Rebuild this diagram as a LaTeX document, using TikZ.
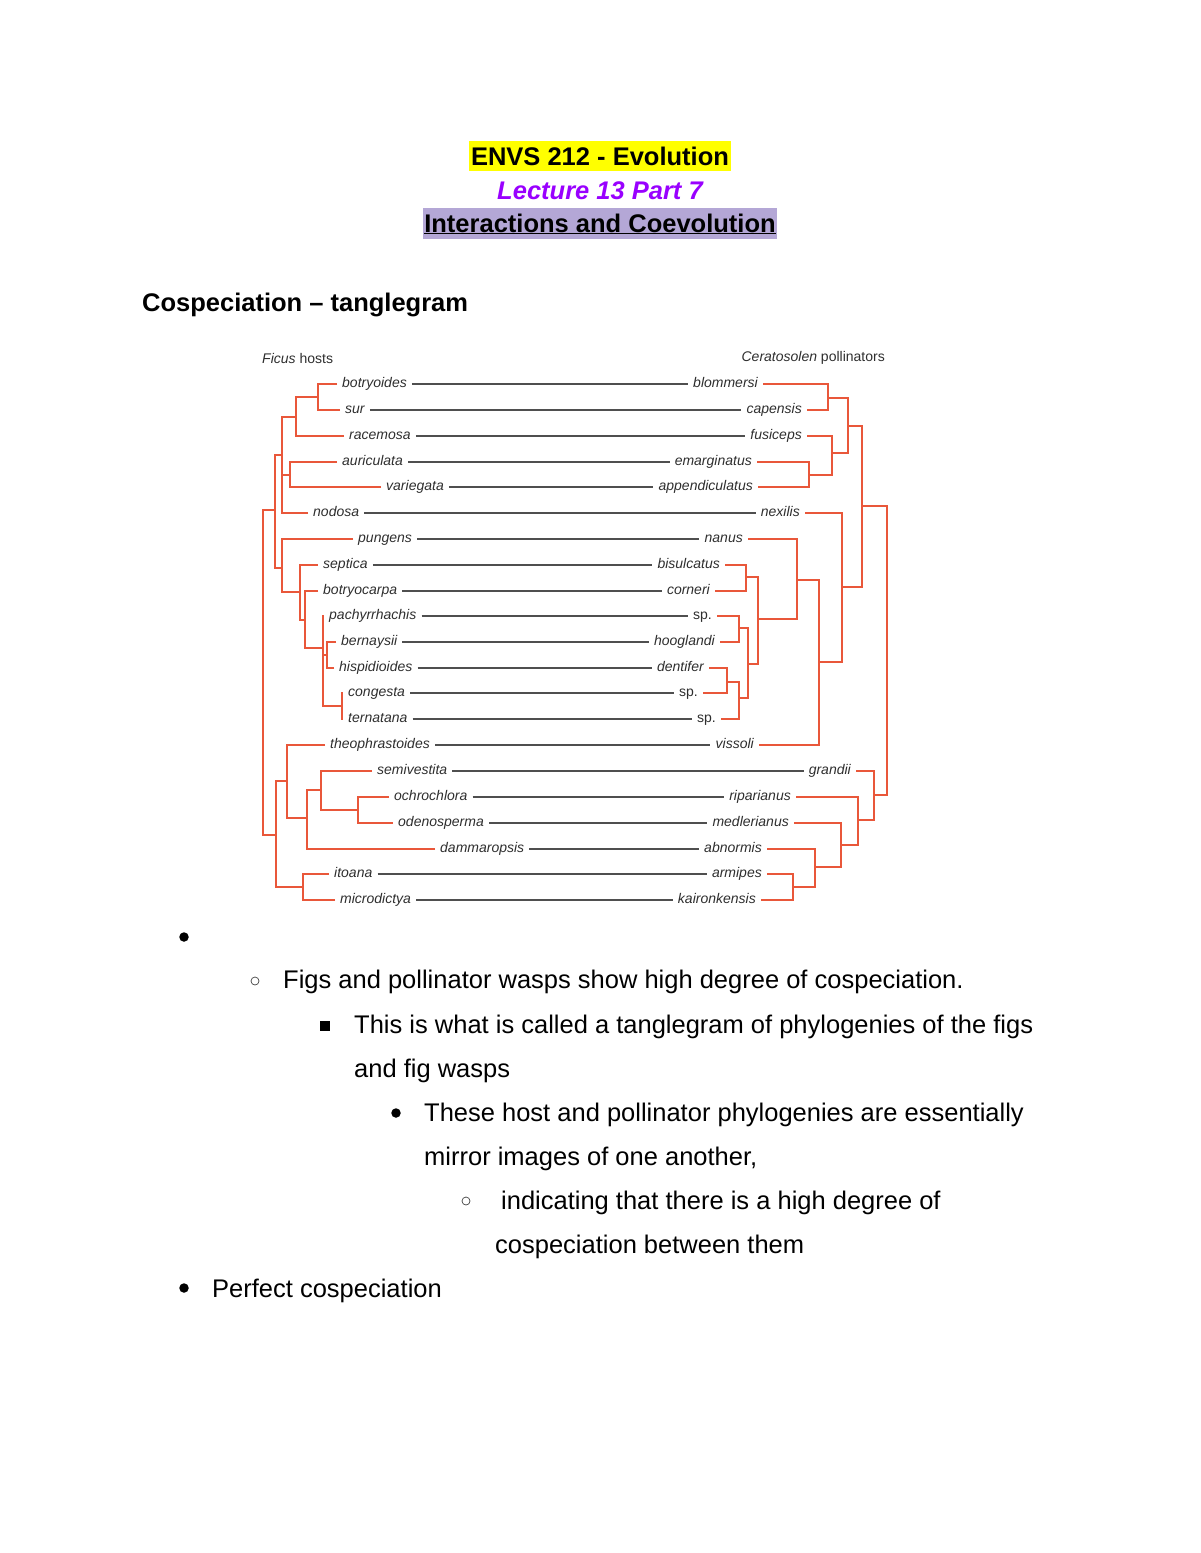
\documentclass[tikz,border=0pt]{standalone}
\usepackage{fontspec}
\setmainfont{Liberation Sans}
\usepackage{tikz}
\definecolor{rojo}{HTML}{E9573A}
\definecolor{tinta}{HTML}{000000}
\definecolor{tinta2}{HTML}{2E2E2E}
\definecolor{gris}{HTML}{4F4F4F}
\definecolor{resalte}{HTML}{FFFF00}
\definecolor{morado}{HTML}{9900FF}
\definecolor{lila}{HTML}{B4A7D6}
\tikzset{
  rama/.style={draw=rojo,line width=2pt},
  enlace/.style={draw=gris,line width=1.5pt},
  huesped/.style={anchor=west,inner xsep=5pt,inner ysep=0pt,text height=9pt,text depth=2pt,font=\fontsize{14}{16}\selectfont\itshape,text=tinta2},
  polin/.style={anchor=east,inner xsep=5pt,inner ysep=0pt,text height=9pt,text depth=2pt,font=\fontsize{14}{16}\selectfont\itshape,text=tinta2},
  cabeza/.style={inner sep=0pt,font=\fontsize{14}{16}\selectfont,text=tinta2},
  titulo/.style={inner ysep=0pt,inner xsep=2pt,font=\fontsize{25.5}{30}\selectfont\bfseries,text=tinta},
  texto/.style={anchor=base west,inner sep=0pt,font=\fontsize{25.5}{30}\selectfont,text=tinta},
  vineta/.style={circle,fill=tinta,inner sep=0pt,minimum size=9.5pt},
  vacia/.style={circle,draw=tinta!75,line width=0.7pt,inner sep=0pt,minimum size=8pt},
  cuadro/.style={rectangle,fill=tinta,inner sep=0pt,minimum size=10pt},
}
\begin{document}
\begin{tikzpicture}[x=1pt,y=-1pt]
\useasboundingbox (0,0) rectangle (1200,1553);
\node[titulo,fill=resalte,text height=24pt,text depth=6pt] (t1) at (600,156) {ENVS 212 - Evolution};
\node[titulo,anchor=base,text=morado,font=\fontsize{25.5}{30}\selectfont\bfseries\itshape] (t2) at (600,199) {Lecture 13 Part 7};
\node[titulo,fill=lila,inner xsep=1.5pt,text height=24pt,text depth=7pt] (t3) at (600,223.5) {\underline{Interactions and Coevolution}};
\node[texto,font=\fontsize{25.5}{30}\selectfont\bfseries] (s1) at (142,311) {Cospeciation – tanglegram};
\node[cabeza,anchor=west] (f1) at (262,358) {\itshape Ficus\upshape\ hosts};
\node[cabeza,anchor=east] (f2) at (885,358) {\itshape Ceratosolen\upshape\ pollinators};
\node[huesped] (h1) at (337,384) {botryoides};
\node[huesped] (h2) at (340,410) {sur};
\node[huesped] (h3) at (344,436) {racemosa};
\node[huesped] (h4) at (337,462) {auriculata};
\node[huesped] (h5) at (381,487) {variegata};
\node[huesped] (h6) at (308,513) {nodosa};
\node[huesped] (h7) at (353,539) {pungens};
\node[huesped] (h8) at (318,565) {septica};
\node[huesped] (h9) at (318,591) {botryocarpa};
\node[huesped] (h10) at (324,616) {pachyrrhachis};
\node[huesped] (h11) at (336,642) {bernaysii};
\node[huesped] (h12) at (334,668) {hispidioides};
\node[huesped] (h13) at (343,693) {congesta};
\node[huesped] (h14) at (343,719) {ternatana};
\node[huesped] (h15) at (325,745) {theophrastoides};
\node[huesped] (h16) at (372,771) {semivestita};
\node[huesped] (h17) at (389,797) {ochrochlora};
\node[huesped] (h18) at (393,823) {odenosperma};
\node[huesped] (h19) at (435,849) {dammaropsis};
\node[huesped] (h20) at (329,874) {itoana};
\node[huesped] (h21) at (335,900) {microdictya};
\node[polin] (p1) at (763,384) {blommersi};
\node[polin] (p2) at (807,410) {capensis};
\node[polin] (p3) at (807,436) {fusiceps};
\node[polin] (p4) at (757,462) {emarginatus};
\node[polin] (p5) at (758,487) {appendiculatus};
\node[polin] (p6) at (805,513) {nexilis};
\node[polin] (p7) at (748,539) {nanus};
\node[polin] (p8) at (725,565) {bisulcatus};
\node[polin] (p9) at (715,591) {corneri};
\node[polin] (p10) at (717,616) {\upshape sp.};
\node[polin] (p11) at (720,642) {hooglandi};
\node[polin] (p12) at (709,668) {dentifer};
\node[polin] (p13) at (703,693) {\upshape sp.};
\node[polin] (p14) at (721,719) {\upshape sp.};
\node[polin] (p15) at (759,745) {vissoli};
\node[polin] (p16) at (856,771) {grandii};
\node[polin] (p17) at (796,797) {riparianus};
\node[polin] (p18) at (794,823) {medlerianus};
\node[polin] (p19) at (767,849) {abnormis};
\node[polin] (p20) at (767,874) {armipes};
\node[polin] (p21) at (761,900) {kaironkensis};
\draw[enlace] (h1) -- (p1);
\draw[enlace] (h2) -- (p2);
\draw[enlace] (h3) -- (p3);
\draw[enlace] (h4) -- (p4);
\draw[enlace] (h5) -- (p5);
\draw[enlace] (h6) -- (p6);
\draw[enlace] (h7) -- (p7);
\draw[enlace] (h8) -- (p8);
\draw[enlace] (h9) -- (p9);
\draw[enlace] (h10) -- (p10);
\draw[enlace] (h11) -- (p11);
\draw[enlace] (h12) -- (p12);
\draw[enlace] (h13) -- (p13);
\draw[enlace] (h14) -- (p14);
\draw[enlace] (h15) -- (p15);
\draw[enlace] (h16) -- (p16);
\draw[enlace] (h17) -- (p17);
\draw[enlace] (h18) -- (p18);
\draw[enlace] (h19) -- (p19);
\draw[enlace] (h20) -- (p20);
\draw[enlace] (h21) -- (p21);
\coordinate (a1) at (318,397);
\coordinate (a2) at (296,417);
\coordinate (a3) at (290,475);
\coordinate (a4) at (282,455);
\coordinate (a5) at (327,655);
\coordinate (a6) at (342,706);
\coordinate (a7) at (323,648);
\coordinate (a8) at (305,620);
\coordinate (a9) at (300,592);
\coordinate (a10) at (282,568);
\coordinate (a11) at (275,510);
\coordinate (a12) at (358,810);
\coordinate (a13) at (321,790);
\coordinate (a14) at (307,818);
\coordinate (a15) at (287,781);
\coordinate (a16) at (303,887);
\coordinate (a17) at (276,835);
\coordinate (a18) at (263,672);
\draw[rama] (h1.west) -| (a1);
\draw[rama] (h2.west) -| (a1);
\draw[rama] (a1) -| (a2);
\draw[rama] (h3.west) -| (a2);
\draw[rama] (h4.west) -| (a3);
\draw[rama] (h5.west) -| (a3);
\draw[rama] (a2) -| (a4);
\draw[rama] (a3) -| (a4);
\draw[rama] (h6.west) -| (a4);
\draw[rama] (h11.west) -| (a5);
\draw[rama] (h12.west) -| (a5);
\draw[rama] (h13.west) -| (a6);
\draw[rama] (h14.west) -| (a6);
\draw[rama] (h10.west) -| (a7);
\draw[rama] (a5) -| (a7);
\draw[rama] (a6) -| (a7);
\draw[rama] (h9.west) -| (a8);
\draw[rama] (a7) -| (a8);
\draw[rama] (h8.west) -| (a9);
\draw[rama] (a8) -| (a9);
\draw[rama] (h7.west) -| (a10);
\draw[rama] (a9) -| (a10);
\draw[rama] (a4) -| (a11);
\draw[rama] (a10) -| (a11);
\draw[rama] (h17.west) -| (a12);
\draw[rama] (h18.west) -| (a12);
\draw[rama] (h16.west) -| (a13);
\draw[rama] (a12) -| (a13);
\draw[rama] (a13) -| (a14);
\draw[rama] (h19.west) -| (a14);
\draw[rama] (h15.west) -| (a15);
\draw[rama] (a14) -| (a15);
\draw[rama] (h20.west) -| (a16);
\draw[rama] (h21.west) -| (a16);
\draw[rama] (a15) -| (a17);
\draw[rama] (a16) -| (a17);
\draw[rama] (a11) -| (a18);
\draw[rama] (a17) -| (a18);
\coordinate (b1) at (828,398);
\coordinate (b2) at (809,475);
\coordinate (b3) at (832,453);
\coordinate (b4) at (848,426);
\coordinate (b5) at (739,628);
\coordinate (b6) at (727,682);
\coordinate (b7) at (739,698);
\coordinate (b8) at (748,664);
\coordinate (b9) at (746,577);
\coordinate (b10) at (758,619);
\coordinate (b11) at (797,580);
\coordinate (b12) at (819,662);
\coordinate (b13) at (842,587);
\coordinate (b14) at (862,506);
\coordinate (b15) at (793,887);
\coordinate (b16) at (815,867);
\coordinate (b17) at (841,845);
\coordinate (b18) at (858,820);
\coordinate (b19) at (874,795);
\coordinate (b20) at (887,650);
\draw[rama] (p1.east) -| (b1);
\draw[rama] (p2.east) -| (b1);
\draw[rama] (p4.east) -| (b2);
\draw[rama] (p5.east) -| (b2);
\draw[rama] (p3.east) -| (b3);
\draw[rama] (b2) -| (b3);
\draw[rama] (b1) -| (b4);
\draw[rama] (b3) -| (b4);
\draw[rama] (p10.east) -| (b5);
\draw[rama] (p11.east) -| (b5);
\draw[rama] (p12.east) -| (b6);
\draw[rama] (p13.east) -| (b6);
\draw[rama] (b6) -| (b7);
\draw[rama] (p14.east) -| (b7);
\draw[rama] (b5) -| (b8);
\draw[rama] (b7) -| (b8);
\draw[rama] (p8.east) -| (b9);
\draw[rama] (p9.east) -| (b9);
\draw[rama] (b9) -| (b10);
\draw[rama] (b8) -| (b10);
\draw[rama] (p7.east) -| (b11);
\draw[rama] (b10) -| (b11);
\draw[rama] (b11) -| (b12);
\draw[rama] (p15.east) -| (b12);
\draw[rama] (p6.east) -| (b13);
\draw[rama] (b12) -| (b13);
\draw[rama] (b4) -| (b14);
\draw[rama] (b13) -| (b14);
\draw[rama] (p20.east) -| (b15);
\draw[rama] (p21.east) -| (b15);
\draw[rama] (p19.east) -| (b16);
\draw[rama] (b15) -| (b16);
\draw[rama] (p18.east) -| (b17);
\draw[rama] (b16) -| (b17);
\draw[rama] (p17.east) -| (b18);
\draw[rama] (b17) -| (b18);
\draw[rama] (p16.east) -| (b19);
\draw[rama] (b18) -| (b19);
\draw[rama] (b14) -| (b20);
\draw[rama] (b19) -| (b20);
\node[vineta] (v1) at (184,937) {};
\node[vacia] (v2) at (255,981) {};
\node[texto] (l1) at (283,988) {Figs and pollinator wasps show high degree of cospeciation.};
\node[cuadro] (v3) at (325,1026) {};
\node[texto] (l2) at (354,1033) {This is what is called a tanglegram of phylogenies of the figs};
\node[texto] (l3) at (354,1077) {and fig wasps};
\node[vineta] (v4) at (396,1113) {};
\node[texto] (l4) at (424,1121) {These host and pollinator phylogenies are essentially};
\node[texto] (l5) at (424,1165) {mirror images of one another,};
\node[vacia] (v5) at (466,1201) {};
\node[texto] (l6) at (501,1209) {indicating that there is a high degree of};
\node[texto] (l7) at (495,1253) {cospeciation between them};
\node[vineta] (v6) at (184,1288) {};
\node[texto] (l8) at (212,1297) {Perfect cospeciation};
\end{tikzpicture}
\end{document}
